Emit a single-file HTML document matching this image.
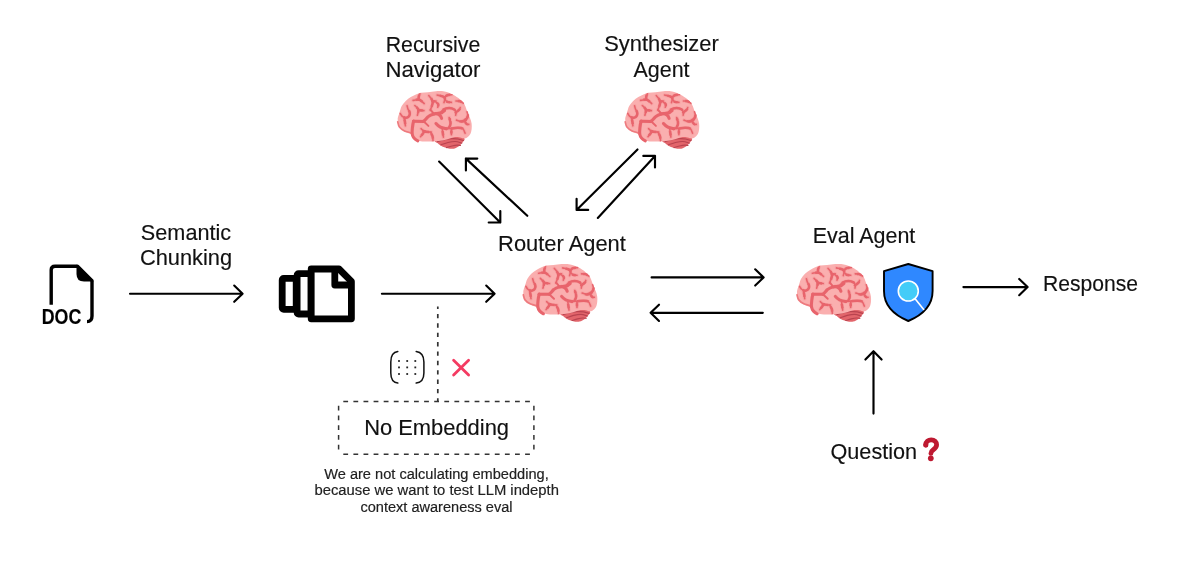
<!DOCTYPE html>
<html><head><meta charset="utf-8">
<style>
html,body{margin:0;padding:0;background:#fff;width:1200px;height:562px;overflow:hidden}
svg{display:block;will-change:transform}
text{font-family:"Liberation Sans",sans-serif;fill:#111;stroke:#111;stroke-width:0.15px}
.lb{font-size:21.6px}
.cap{font-size:14px;fill:#222}
</style></head><body>
<svg width="1200" height="562" viewBox="0 0 1200 562">
<defs>
<g id="brain">
<path d="M435.20 140.60 C433.53 141.77 436.95 142.60 438.00 143.50 C439.05 144.40 439.92 145.20 441.50 146.00 C443.08 146.80 445.43 147.85 447.50 148.30 C449.57 148.75 451.95 149.08 453.90 148.70 C455.85 148.32 457.77 147.03 459.20 146.00 C460.63 144.97 461.62 143.75 462.50 142.50 C463.38 141.25 465.25 139.75 464.50 138.50 C463.75 137.25 460.75 135.33 458.00 135.00 C455.25 134.67 451.80 135.57 448.00 136.50 C444.20 137.43 436.87 139.43 435.20 140.60 Z" fill="#E2656B"/>
<g fill="none" stroke="#B9434F" stroke-width="1.15" stroke-linecap="round"><path d="M437.50 141.60 C438.58 141.30 441.65 140.28 444.00 139.80 C446.35 139.32 449.27 138.83 451.60 138.70 C453.93 138.57 456.02 138.70 458.00 139.00 C459.98 139.30 462.58 140.25 463.50 140.50"/><path d="M441.00 144.80 C442.17 144.42 445.62 143.05 448.00 142.50 C450.38 141.95 453.00 141.40 455.30 141.50 C457.60 141.60 460.72 142.83 461.80 143.10"/><path d="M446.50 147.60 C447.42 147.33 450.22 146.42 452.00 146.00 C453.78 145.58 455.78 145.18 457.20 145.10 C458.62 145.02 459.95 145.43 460.50 145.50"/></g>
<clipPath id="bclip"><path d="M397.71 118.42 C397.52 120.19 397.80 121.93 398.28 123.55 C398.75 125.16 399.51 126.78 400.56 128.11 C401.60 129.43 402.84 130.48 404.55 131.52 C406.26 132.57 409.39 133.33 410.81 134.37 C412.24 135.42 411.95 136.75 413.09 137.79 C414.23 138.84 415.75 140.02 417.65 140.64 C419.55 141.26 421.43 141.38 424.49 141.50 C427.55 141.61 432.66 141.56 436.00 141.32 C439.34 141.09 441.70 140.71 444.55 140.07 C447.40 139.43 450.72 137.98 453.09 137.51 C455.47 137.03 457.08 137.08 458.79 137.22 C460.50 137.36 462.02 138.27 463.35 138.36 C464.68 138.46 465.63 138.46 466.77 137.79 C467.91 137.13 469.38 135.80 470.19 134.37 C471.00 132.95 471.38 131.05 471.61 129.25 C471.85 127.44 471.85 125.35 471.61 123.55 C471.38 121.74 470.81 120.09 470.19 118.42 C469.57 116.74 468.86 115.84 467.91 113.50 C466.96 111.16 465.82 106.76 464.49 104.38 C463.16 102.01 461.83 100.87 459.93 99.26 C458.03 97.64 455.66 95.98 453.09 94.70 C450.53 93.42 447.40 92.15 444.55 91.56 C441.70 90.98 438.77 91.07 436.00 91.17 C433.23 91.26 430.40 91.88 427.91 92.13 C425.42 92.39 423.07 92.32 421.07 92.70 C419.08 93.08 417.65 93.70 415.94 94.41 C414.23 95.13 412.52 95.89 410.81 96.98 C409.11 98.07 407.21 99.45 405.69 100.97 C404.17 102.49 402.74 104.10 401.70 106.09 C400.65 108.09 400.08 110.88 399.42 112.93 C398.75 114.99 397.90 116.65 397.71 118.42 Z"/></clipPath>
<path d="M397.71 118.42 C397.52 120.19 397.80 121.93 398.28 123.55 C398.75 125.16 399.51 126.78 400.56 128.11 C401.60 129.43 402.84 130.48 404.55 131.52 C406.26 132.57 409.39 133.33 410.81 134.37 C412.24 135.42 411.95 136.75 413.09 137.79 C414.23 138.84 415.75 140.02 417.65 140.64 C419.55 141.26 421.43 141.38 424.49 141.50 C427.55 141.61 432.66 141.56 436.00 141.32 C439.34 141.09 441.70 140.71 444.55 140.07 C447.40 139.43 450.72 137.98 453.09 137.51 C455.47 137.03 457.08 137.08 458.79 137.22 C460.50 137.36 462.02 138.27 463.35 138.36 C464.68 138.46 465.63 138.46 466.77 137.79 C467.91 137.13 469.38 135.80 470.19 134.37 C471.00 132.95 471.38 131.05 471.61 129.25 C471.85 127.44 471.85 125.35 471.61 123.55 C471.38 121.74 470.81 120.09 470.19 118.42 C469.57 116.74 468.86 115.84 467.91 113.50 C466.96 111.16 465.82 106.76 464.49 104.38 C463.16 102.01 461.83 100.87 459.93 99.26 C458.03 97.64 455.66 95.98 453.09 94.70 C450.53 93.42 447.40 92.15 444.55 91.56 C441.70 90.98 438.77 91.07 436.00 91.17 C433.23 91.26 430.40 91.88 427.91 92.13 C425.42 92.39 423.07 92.32 421.07 92.70 C419.08 93.08 417.65 93.70 415.94 94.41 C414.23 95.13 412.52 95.89 410.81 96.98 C409.11 98.07 407.21 99.45 405.69 100.97 C404.17 102.49 402.74 104.10 401.70 106.09 C400.65 108.09 400.08 110.88 399.42 112.93 C398.75 114.99 397.90 116.65 397.71 118.42 Z" fill="#FAAFAF"/>
<path d="M397.71 121.84 C397.99 122.69 398.28 125.45 399.42 126.97 C400.56 128.49 402.55 129.91 404.55 130.95 C406.54 132.00 409.96 132.19 411.38 133.23 C412.81 134.28 412.81 136.56 413.09 137.22" fill="none" stroke="#EE7A7E" stroke-width="1.7" stroke-linecap="round"/>
<g fill="none" stroke="#F39396" stroke-width="3.6" stroke-linecap="round" stroke-linejoin="round" opacity="0.4" clip-path="url(#bclip)"><path d="M407.11 105.81 C407.25 106.33 407.56 107.90 407.97 108.94 C408.37 109.99 409.28 111.13 409.56 112.08 C409.85 113.03 409.89 113.83 409.68 114.64 C409.46 115.45 408.96 116.40 408.25 116.92 C407.54 117.44 406.40 117.87 405.40 117.77 C404.40 117.68 403.12 117.06 402.27 116.35 C401.41 115.64 400.61 113.98 400.27 113.50"/><path d="M419.93 93.84 C419.74 94.27 419.00 95.46 418.79 96.41 C418.58 97.36 418.70 99.02 418.68 99.54"/><path d="M413.09 100.40 C414.02 100.25 417.25 99.40 418.68 99.54 C420.10 99.68 420.72 100.59 421.64 101.25 C422.56 101.92 423.78 103.15 424.21 103.53"/><path d="M414.80 105.52 C415.18 105.90 416.47 107.04 417.08 107.80 C417.70 108.56 418.46 108.85 418.51 110.08 C418.55 111.32 417.56 114.36 417.37 115.21"/><path d="M418.51 110.08 L423.92 110.65"/><path d="M428.76 95.55 C429.19 96.08 430.66 97.59 431.33 98.69 C431.99 99.78 432.70 100.78 432.75 102.11 C432.80 103.43 432.04 105.33 431.61 106.66 C431.19 107.99 430.43 109.51 430.19 110.08"/><path d="M432.75 101.65 L436.00 100.97"/><path d="M437.14 94.98 C438.37 95.39 443.41 96.15 444.55 97.43 C445.69 98.72 444.07 101.80 443.98 102.68"/><path d="M444.55 97.43 C445.02 97.07 446.16 95.72 447.40 95.27 C448.63 94.81 451.19 94.79 451.95 94.70"/><path d="M445.69 100.40 C445.97 100.63 446.45 101.49 447.40 101.82 C448.35 102.15 450.72 102.30 451.38 102.39"/><path d="M455.94 100.97 C456.61 101.01 458.70 100.87 459.93 101.25 C461.17 101.63 462.78 102.91 463.35 103.25"/><path d="M436.00 102.11 C436.38 102.49 437.99 103.53 438.28 104.38 C438.56 105.24 437.80 106.76 437.71 107.23"/><path d="M439.42 114.07 C440.08 113.33 441.79 110.62 443.41 109.63 C445.02 108.63 447.30 108.11 449.11 108.09 C450.91 108.07 453.09 108.80 454.23 109.51 C455.37 110.23 455.71 111.41 455.94 112.36 C456.18 113.31 455.71 114.74 455.66 115.21"/><path d="M455.94 112.36 C456.51 111.89 458.65 110.32 459.36 109.51 C460.07 108.71 460.07 107.85 460.22 107.52"/><path d="M449.11 117.49 L450.25 121.02"/><path d="M461.64 121.02 C462.40 120.72 465.15 120.07 466.20 119.20 C467.24 118.33 467.77 117.02 467.91 115.78 C468.05 114.55 467.20 112.46 467.05 111.79"/><path d="M449.68 118.42 C449.82 119.27 450.62 122.08 450.53 123.55 C450.43 125.02 449.82 126.40 449.11 127.25 C448.39 128.11 446.73 128.44 446.26 128.68"/><path d="M446.26 128.68 C447.11 128.63 449.49 128.53 451.38 128.39 C453.28 128.25 455.75 127.77 457.65 127.82 C459.55 127.87 461.55 127.77 462.78 128.68 C464.02 129.58 464.68 132.47 465.06 133.23"/><path d="M442.27 129.25 L443.41 137.22"/><path d="M451.38 129.25 L451.38 134.66"/><path d="M456.51 120.13 C457.27 120.37 459.65 121.46 461.07 121.55 C462.50 121.65 464.02 121.51 465.06 120.70 C466.10 119.89 466.96 117.37 467.34 116.71"/><path d="M464.49 121.27 C464.87 121.74 466.06 123.59 466.77 124.12 C467.48 124.64 468.43 124.35 468.76 124.40"/><path d="M403.98 117.56 C404.12 118.18 404.59 119.89 404.83 121.27 C405.07 122.64 405.31 125.07 405.40 125.83"/><path d="M421.07 128.68 C421.64 129.15 422.78 130.95 424.49 131.52 C426.20 132.09 430.19 132.00 431.33 132.09"/><path d="M424.49 131.52 L420.50 136.65"/><path d="M430.19 132.09 C430.57 132.76 431.99 134.66 432.47 136.08 C432.94 137.51 432.94 139.88 433.04 140.64"/><path d="M413.6 121.3 L423.2 121.4 C425.2 120.6 426.6 117.9 428.2 116.6 C430 115 432 114.4 434 114 L441.6 112.8 L444.6 110.6"/><path d="M413.6 121.3 C412.9 123.5 412.6 126 412.4 128 C412.1 130.5 411.9 132.5 412.3 134.5 C412.9 137.5 414.8 139.5 417.8 140.9"/><path d="M436 113.5 C438.5 113.8 440.5 114.8 441.6 118.4"/><path d="M436 123.5 C438 126 440 128 446.3 128.7"/></g>
<g fill="none" stroke="#E8646C" stroke-width="1.6" stroke-linecap="round" stroke-linejoin="round"><path d="M407.11 105.81 C407.25 106.33 407.56 107.90 407.97 108.94 C408.37 109.99 409.28 111.13 409.56 112.08 C409.85 113.03 409.89 113.83 409.68 114.64 C409.46 115.45 408.96 116.40 408.25 116.92 C407.54 117.44 406.40 117.87 405.40 117.77 C404.40 117.68 403.12 117.06 402.27 116.35 C401.41 115.64 400.61 113.98 400.27 113.50"/><path d="M419.93 93.84 C419.74 94.27 419.00 95.46 418.79 96.41 C418.58 97.36 418.70 99.02 418.68 99.54"/><path d="M413.09 100.40 C414.02 100.25 417.25 99.40 418.68 99.54 C420.10 99.68 420.72 100.59 421.64 101.25 C422.56 101.92 423.78 103.15 424.21 103.53"/><path d="M414.80 105.52 C415.18 105.90 416.47 107.04 417.08 107.80 C417.70 108.56 418.46 108.85 418.51 110.08 C418.55 111.32 417.56 114.36 417.37 115.21"/><path d="M418.51 110.08 L423.92 110.65"/><path d="M428.76 95.55 C429.19 96.08 430.66 97.59 431.33 98.69 C431.99 99.78 432.70 100.78 432.75 102.11 C432.80 103.43 432.04 105.33 431.61 106.66 C431.19 107.99 430.43 109.51 430.19 110.08"/><path d="M432.75 101.65 L436.00 100.97"/><path d="M437.14 94.98 C438.37 95.39 443.41 96.15 444.55 97.43 C445.69 98.72 444.07 101.80 443.98 102.68"/><path d="M444.55 97.43 C445.02 97.07 446.16 95.72 447.40 95.27 C448.63 94.81 451.19 94.79 451.95 94.70"/><path d="M445.69 100.40 C445.97 100.63 446.45 101.49 447.40 101.82 C448.35 102.15 450.72 102.30 451.38 102.39"/><path d="M455.94 100.97 C456.61 101.01 458.70 100.87 459.93 101.25 C461.17 101.63 462.78 102.91 463.35 103.25"/><path d="M436.00 102.11 C436.38 102.49 437.99 103.53 438.28 104.38 C438.56 105.24 437.80 106.76 437.71 107.23"/><path d="M439.42 114.07 C440.08 113.33 441.79 110.62 443.41 109.63 C445.02 108.63 447.30 108.11 449.11 108.09 C450.91 108.07 453.09 108.80 454.23 109.51 C455.37 110.23 455.71 111.41 455.94 112.36 C456.18 113.31 455.71 114.74 455.66 115.21"/><path d="M455.94 112.36 C456.51 111.89 458.65 110.32 459.36 109.51 C460.07 108.71 460.07 107.85 460.22 107.52"/><path d="M449.11 117.49 L450.25 121.02"/><path d="M461.64 121.02 C462.40 120.72 465.15 120.07 466.20 119.20 C467.24 118.33 467.77 117.02 467.91 115.78 C468.05 114.55 467.20 112.46 467.05 111.79"/><path d="M449.68 118.42 C449.82 119.27 450.62 122.08 450.53 123.55 C450.43 125.02 449.82 126.40 449.11 127.25 C448.39 128.11 446.73 128.44 446.26 128.68"/><path d="M446.26 128.68 C447.11 128.63 449.49 128.53 451.38 128.39 C453.28 128.25 455.75 127.77 457.65 127.82 C459.55 127.87 461.55 127.77 462.78 128.68 C464.02 129.58 464.68 132.47 465.06 133.23"/><path d="M442.27 129.25 L443.41 137.22"/><path d="M451.38 129.25 L451.38 134.66"/><path d="M456.51 120.13 C457.27 120.37 459.65 121.46 461.07 121.55 C462.50 121.65 464.02 121.51 465.06 120.70 C466.10 119.89 466.96 117.37 467.34 116.71"/><path d="M464.49 121.27 C464.87 121.74 466.06 123.59 466.77 124.12 C467.48 124.64 468.43 124.35 468.76 124.40"/><path d="M403.98 117.56 C404.12 118.18 404.59 119.89 404.83 121.27 C405.07 122.64 405.31 125.07 405.40 125.83"/><path d="M421.07 128.68 C421.64 129.15 422.78 130.95 424.49 131.52 C426.20 132.09 430.19 132.00 431.33 132.09"/><path d="M424.49 131.52 L420.50 136.65"/><path d="M430.19 132.09 C430.57 132.76 431.99 134.66 432.47 136.08 C432.94 137.51 432.94 139.88 433.04 140.64"/></g>
<g fill="none" stroke="#E8646C" stroke-width="2.5" stroke-linecap="butt" stroke-linejoin="round"><path pathLength="100" stroke-dasharray="0 22 56 22" d="M407.11 105.81 C407.25 106.33 407.56 107.90 407.97 108.94 C408.37 109.99 409.28 111.13 409.56 112.08 C409.85 113.03 409.89 113.83 409.68 114.64 C409.46 115.45 408.96 116.40 408.25 116.92 C407.54 117.44 406.40 117.87 405.40 117.77 C404.40 117.68 403.12 117.06 402.27 116.35 C401.41 115.64 400.61 113.98 400.27 113.50"/><path pathLength="100" stroke-dasharray="0 22 56 22" d="M419.93 93.84 C419.74 94.27 419.00 95.46 418.79 96.41 C418.58 97.36 418.70 99.02 418.68 99.54"/><path pathLength="100" stroke-dasharray="0 22 56 22" d="M413.09 100.40 C414.02 100.25 417.25 99.40 418.68 99.54 C420.10 99.68 420.72 100.59 421.64 101.25 C422.56 101.92 423.78 103.15 424.21 103.53"/><path pathLength="100" stroke-dasharray="0 22 56 22" d="M414.80 105.52 C415.18 105.90 416.47 107.04 417.08 107.80 C417.70 108.56 418.46 108.85 418.51 110.08 C418.55 111.32 417.56 114.36 417.37 115.21"/><path pathLength="100" stroke-dasharray="0 22 56 22" d="M418.51 110.08 L423.92 110.65"/><path pathLength="100" stroke-dasharray="0 22 56 22" d="M428.76 95.55 C429.19 96.08 430.66 97.59 431.33 98.69 C431.99 99.78 432.70 100.78 432.75 102.11 C432.80 103.43 432.04 105.33 431.61 106.66 C431.19 107.99 430.43 109.51 430.19 110.08"/><path pathLength="100" stroke-dasharray="0 22 56 22" d="M432.75 101.65 L436.00 100.97"/><path pathLength="100" stroke-dasharray="0 22 56 22" d="M437.14 94.98 C438.37 95.39 443.41 96.15 444.55 97.43 C445.69 98.72 444.07 101.80 443.98 102.68"/><path pathLength="100" stroke-dasharray="0 22 56 22" d="M444.55 97.43 C445.02 97.07 446.16 95.72 447.40 95.27 C448.63 94.81 451.19 94.79 451.95 94.70"/><path pathLength="100" stroke-dasharray="0 22 56 22" d="M445.69 100.40 C445.97 100.63 446.45 101.49 447.40 101.82 C448.35 102.15 450.72 102.30 451.38 102.39"/><path pathLength="100" stroke-dasharray="0 22 56 22" d="M455.94 100.97 C456.61 101.01 458.70 100.87 459.93 101.25 C461.17 101.63 462.78 102.91 463.35 103.25"/><path pathLength="100" stroke-dasharray="0 22 56 22" d="M436.00 102.11 C436.38 102.49 437.99 103.53 438.28 104.38 C438.56 105.24 437.80 106.76 437.71 107.23"/><path pathLength="100" stroke-dasharray="0 22 56 22" d="M439.42 114.07 C440.08 113.33 441.79 110.62 443.41 109.63 C445.02 108.63 447.30 108.11 449.11 108.09 C450.91 108.07 453.09 108.80 454.23 109.51 C455.37 110.23 455.71 111.41 455.94 112.36 C456.18 113.31 455.71 114.74 455.66 115.21"/><path pathLength="100" stroke-dasharray="0 22 56 22" d="M455.94 112.36 C456.51 111.89 458.65 110.32 459.36 109.51 C460.07 108.71 460.07 107.85 460.22 107.52"/><path pathLength="100" stroke-dasharray="0 22 56 22" d="M449.11 117.49 L450.25 121.02"/><path pathLength="100" stroke-dasharray="0 22 56 22" d="M461.64 121.02 C462.40 120.72 465.15 120.07 466.20 119.20 C467.24 118.33 467.77 117.02 467.91 115.78 C468.05 114.55 467.20 112.46 467.05 111.79"/><path pathLength="100" stroke-dasharray="0 22 56 22" d="M449.68 118.42 C449.82 119.27 450.62 122.08 450.53 123.55 C450.43 125.02 449.82 126.40 449.11 127.25 C448.39 128.11 446.73 128.44 446.26 128.68"/><path pathLength="100" stroke-dasharray="0 22 56 22" d="M446.26 128.68 C447.11 128.63 449.49 128.53 451.38 128.39 C453.28 128.25 455.75 127.77 457.65 127.82 C459.55 127.87 461.55 127.77 462.78 128.68 C464.02 129.58 464.68 132.47 465.06 133.23"/><path pathLength="100" stroke-dasharray="0 22 56 22" d="M442.27 129.25 L443.41 137.22"/><path pathLength="100" stroke-dasharray="0 22 56 22" d="M451.38 129.25 L451.38 134.66"/><path pathLength="100" stroke-dasharray="0 22 56 22" d="M456.51 120.13 C457.27 120.37 459.65 121.46 461.07 121.55 C462.50 121.65 464.02 121.51 465.06 120.70 C466.10 119.89 466.96 117.37 467.34 116.71"/><path pathLength="100" stroke-dasharray="0 22 56 22" d="M464.49 121.27 C464.87 121.74 466.06 123.59 466.77 124.12 C467.48 124.64 468.43 124.35 468.76 124.40"/><path pathLength="100" stroke-dasharray="0 22 56 22" d="M403.98 117.56 C404.12 118.18 404.59 119.89 404.83 121.27 C405.07 122.64 405.31 125.07 405.40 125.83"/><path pathLength="100" stroke-dasharray="0 22 56 22" d="M421.07 128.68 C421.64 129.15 422.78 130.95 424.49 131.52 C426.20 132.09 430.19 132.00 431.33 132.09"/><path pathLength="100" stroke-dasharray="0 22 56 22" d="M424.49 131.52 L420.50 136.65"/><path pathLength="100" stroke-dasharray="0 22 56 22" d="M430.19 132.09 C430.57 132.76 431.99 134.66 432.47 136.08 C432.94 137.51 432.94 139.88 433.04 140.64"/></g>
<g fill="none" stroke="#E8646C" stroke-width="3" stroke-linecap="round" stroke-linejoin="round"><path d="M413.6 121.3 L423.2 121.4 C425.2 120.6 426.6 117.9 428.2 116.6 C430 115 432 114.4 434 114 L441.6 112.8 L444.6 110.6"/><path d="M413.6 121.3 C412.9 123.5 412.6 126 412.4 128 C412.1 130.5 411.9 132.5 412.3 134.5 C412.9 137.5 414.8 139.5 417.8 140.9"/><path d="M436 113.5 C438.5 113.8 440.5 114.8 441.6 118.4"/><path d="M436 123.5 C438 126 440 128 446.3 128.7"/></g>
<g fill="none" stroke="#E8646C" stroke-width="2" stroke-linecap="round" stroke-linejoin="round"><path d="M423.6 121.3 L428.4 125.9"/><path d="M434 114 L430.6 109.8"/></g>
<g fill="#E8646C"><circle cx="418.7" cy="99.5" r="1.45"/><circle cx="418.5" cy="110.1" r="1.45"/><circle cx="444.5" cy="97.4" r="1.45"/><circle cx="455.9" cy="112.4" r="1.45"/><circle cx="446.3" cy="128.7" r="1.45"/><circle cx="424.5" cy="131.5" r="1.45"/><circle cx="423.6" cy="121.3" r="1.45"/><circle cx="434.0" cy="114.0" r="1.45"/><circle cx="441.6" cy="112.8" r="1.45"/><circle cx="413.6" cy="121.3" r="1.45"/><circle cx="432.8" cy="101.6" r="1.45"/></g>
</g>
</defs>

<!-- texts -->
<text textLength="94.6" lengthAdjust="spacingAndGlyphs" class="lb" x="433" y="51.7" text-anchor="middle">Recursive</text>
<text textLength="95" lengthAdjust="spacingAndGlyphs" class="lb" x="433" y="76.5" text-anchor="middle">Navigator</text>
<text textLength="114.5" lengthAdjust="spacingAndGlyphs" class="lb" x="661.5" y="51.3" text-anchor="middle">Synthesizer</text>
<text textLength="56.1" lengthAdjust="spacingAndGlyphs" class="lb" x="661.5" y="76.6" text-anchor="middle">Agent</text>
<text textLength="90.3" lengthAdjust="spacingAndGlyphs" class="lb" x="186" y="240.4" text-anchor="middle">Semantic</text>
<text textLength="92.2" lengthAdjust="spacingAndGlyphs" class="lb" x="186" y="265" text-anchor="middle">Chunking</text>
<text textLength="127.8" lengthAdjust="spacingAndGlyphs" class="lb" x="562" y="250.6" text-anchor="middle">Router Agent</text>
<text textLength="102.6" lengthAdjust="spacingAndGlyphs" class="lb" x="864" y="243" text-anchor="middle">Eval Agent</text>
<text textLength="95.1" lengthAdjust="spacingAndGlyphs" class="lb" x="1043" y="291.2">Response</text>
<text textLength="86.6" lengthAdjust="spacingAndGlyphs" class="lb" x="830.5" y="458.7">Question</text>
<text textLength="144.9" lengthAdjust="spacingAndGlyphs" class="lb" x="436.6" y="435.3" text-anchor="middle">No Embedding</text>
<text textLength="224.6" lengthAdjust="spacingAndGlyphs" class="cap" x="436.5" y="478.7" text-anchor="middle">We are not calculating embedding,</text>
<text textLength="244.5" lengthAdjust="spacingAndGlyphs" class="cap" x="436.7" y="495.2" text-anchor="middle">because we want to test LLM indepth</text>
<text textLength="152.1" lengthAdjust="spacingAndGlyphs" class="cap" x="436.5" y="511.5" text-anchor="middle">context awareness eval</text>

<!-- brains -->
<use href="#brain"/>
<use href="#brain" transform="translate(227.5,0)"/>
<use href="#brain" transform="translate(125.6,172.9)"/>
<use href="#brain" transform="translate(399.3,172.9)"/>

<!-- arrows -->
<g fill="none" stroke="#000" stroke-width="2.15" stroke-linecap="round" stroke-linejoin="round">
  <path d="M130 293.7 H242.6 M234.2 285.6 L242.6 293.7 L234.2 301.8"/>
  <path d="M381.9 293.7 H494.6 M486.2 285.6 L494.6 293.7 L486.2 301.8"/>
  <path d="M651.6 277.4 H763.6 M755.2 269.3 L763.6 277.4 L755.2 285.5"/>
  <path d="M762.8 312.8 H650.6 M659.0 304.7 L650.6 312.8 L659.0 320.9"/>
  <path d="M963.4 287.1 H1027.6 M1019.2 279.0 L1027.6 287.1 L1019.2 295.2"/>
  <path d="M873.5 413.6 V351.3 M865.4 359.6 L873.5 351.2 L881.6 359.6"/>
  <path d="M439.1 161.6 L500.3 222.5 M500.3 211 V222.5 H488.7"/>
  <path d="M527.3 215.8 L465.9 158.6 M465.9 170.4 V158.6 H477.3"/>
  <path d="M637.5 149.4 L576.6 209.9 M576.6 198.7 V209.9 H588.2"/>
  <path d="M597.8 217.9 L655 155.9 M643.3 155.9 H655 V167.5"/>
</g>

<!-- dashed -->
<path d="M437.8 306.6 V401.4" stroke="#333" stroke-width="1.7" stroke-dasharray="4.4 4.97" stroke-dashoffset="2"/>
<g stroke="#333" stroke-width="1.5" fill="none">
<path d="M343.3 401.4 H530" stroke-dasharray="4.8 5.3"/>
<path d="M343.3 454.3 H530" stroke-dasharray="4.8 5.3"/>
<path d="M338.6 405.7 V450" stroke-dasharray="4.9 4.85"/>
<path d="M533.9 405.7 V450" stroke-dasharray="4.9 4.85"/>
</g>
<!-- embedding icon -->
<g fill="none" stroke="#111" stroke-width="1.5" stroke-linecap="round">
  <path d="M397.8 351.6 C392.5 352.3 390.8 356 390.8 362 V373 C390.8 379 392.5 382.4 397.8 383.1"/>
  <path d="M416.2 351.6 C421.5 352.3 423.9 356 423.9 362 V373 C423.9 379 421.5 382.4 416.2 383.1"/>
</g>
<g fill="#222">
  <rect x="398.1" y="360.1" width="1.8" height="1.8"/><rect x="406.3" y="360.1" width="1.8" height="1.8"/><rect x="414.4" y="360.1" width="1.8" height="1.8"/>
  <rect x="398.1" y="366.5" width="1.8" height="1.8"/><rect x="406.3" y="366.5" width="1.8" height="1.8"/><rect x="414.4" y="366.5" width="1.8" height="1.8"/>
  <rect x="398.1" y="373.1" width="1.8" height="1.8"/><rect x="406.3" y="373.1" width="1.8" height="1.8"/><rect x="414.4" y="373.1" width="1.8" height="1.8"/>
</g>
<!-- red X -->
<path d="M453.6 360.2 L468.6 375 M468.6 360.2 L453.6 375" stroke="#F43B62" stroke-width="2.8" stroke-linecap="round"/>

<!-- doc icon -->
<g fill="none" stroke="#000" stroke-width="3.4" stroke-linejoin="round">
  <path d="M51.2 304.7 V270 Q51.2 266.2 55 266.2 H77.5 L92 280.7 V316 Q92 321.6 87 321.6"/>
</g>
<path d="M76.5 264.5 V274 Q76.5 281.5 84 281.5 H93.7 Z" fill="#000"/>
<text x="41.7" y="323.6" style="font-family:'Liberation Sans';font-weight:bold;font-size:21.5px;fill:#000" textLength="39.6" lengthAdjust="spacingAndGlyphs">DOC</text>

<!-- stacked docs icon -->
<g fill="#fff" stroke="#000" stroke-width="6.8" stroke-linejoin="round">
  <rect x="282.2" y="278.4" width="14" height="30.9" rx="1.5"/>
  <rect x="297.1" y="273.7" width="14" height="40.3" rx="1.5"/>
  <path d="M311.2 269 H339 L351.4 281.4 V318.8 H311.2 Z"/>
  <path d="M334.8 269 V285 H351.4" fill="none"/>
</g>

<!-- shield -->
<path d="M908.3 264 L884 271.2 V291 C884 305 894 315 908.3 321 C922.6 315 932.6 305 932.6 291 V271.2 Z" fill="#2F88FF" stroke="#000" stroke-width="1.9" stroke-linejoin="round"/>
<circle cx="908.3" cy="291" r="10" fill="#43CCF8" stroke="#fff" stroke-width="1.6"/>
<path d="M915.3 299 L923.7 309.5" stroke="#fff" stroke-width="1.6" stroke-linecap="round"/>

<!-- question mark -->
<path d="M925.7 445 C925.9 441.6 928.4 439.9 931.2 439.9 C934.5 439.9 936.6 442 936.6 444.8 C936.6 447.5 934.6 448.9 933 450 C931.5 451 930.9 451.9 930.9 453.4" fill="none" stroke="#BE1931" stroke-width="4.8" stroke-linecap="round" stroke-linejoin="round"/>
<circle cx="925.8" cy="445" r="2.5" fill="#BE1931"/>
<circle cx="930.8" cy="458.3" r="2.85" fill="#BE1931"/>
</svg>
</body></html>
